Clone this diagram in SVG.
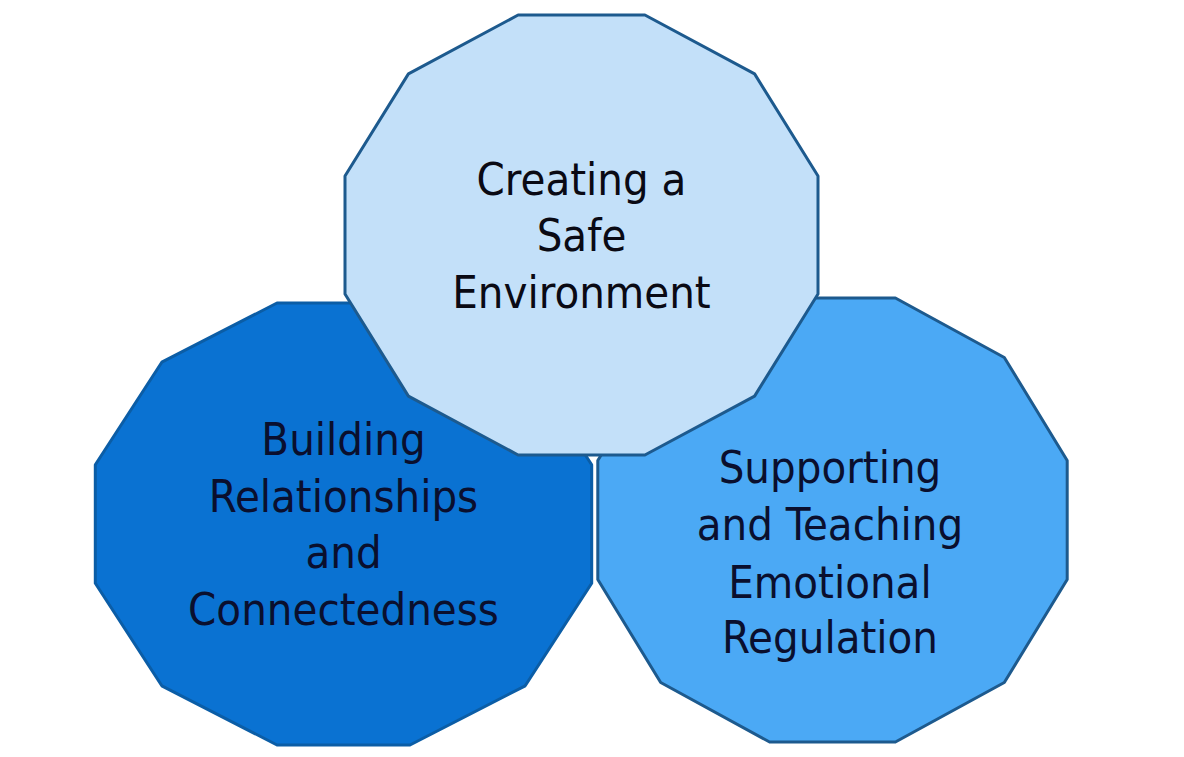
<svg xmlns="http://www.w3.org/2000/svg" width="1184" height="757" viewBox="0 0 1184 757">
<style>
.shape{stroke-width:3;stroke-linejoin:round}
.lbl{font-family:"DejaVu Sans Condensed","DejaVu Sans",sans-serif;font-stretch:condensed;font-size:45px;text-anchor:middle;fill:#0a0f2e}
</style>
<rect width="1184" height="757" fill="#ffffff"/>
<g id="connectors"></g>
<g id="node-building">
<polygon class="shape" fill="#0A72D2" stroke="#0B5DA6" points="591.7,464.8 525.2,362.2 410,303 277,303 161.8,362.2 95.3,464.8 95.3,583.2 161.8,685.8 277,745 410,745 525.2,685.8 591.7,583.2"/>
<text class="lbl"><tspan x="343.5" y="455">Building</tspan><tspan x="343.5" y="512">Relationships</tspan><tspan x="343.5" y="568">and</tspan><tspan x="343.5" y="625">Connectedness</tspan></text>
</g>
<g id="node-supporting">
<polygon class="shape" fill="#4BA9F5" stroke="#1D5A8E" points="1067.2,460.5 1004.3,357.5 895.4,298 769.6,298 660.7,357.5 597.8,460.5 597.8,579.5 660.7,682.5 769.6,742 895.4,742 1004.3,682.5 1067.2,579.5"/>
<text class="lbl"><tspan x="830" y="483">Supporting</tspan><tspan x="830" y="540">and Teaching</tspan><tspan x="830" y="598">Emotional</tspan><tspan x="830" y="653">Regulation</tspan></text>
</g>
<g id="node-safe">
<polygon class="shape" fill="#C3E0F9" stroke="#1D5A8E" points="818,176 754.6,73.9 644.9,15 518.1,15 408.4,73.9 345,176 345,294 408.4,396.1 518.1,455 644.9,455 754.6,396.1 818,294"/>
<text class="lbl" style="fill:#0a0a14"><tspan x="581.5" y="195">Creating a</tspan><tspan x="581.5" y="251">Safe</tspan><tspan x="581.5" y="308">Environment</tspan></text>
</g>
</svg>
